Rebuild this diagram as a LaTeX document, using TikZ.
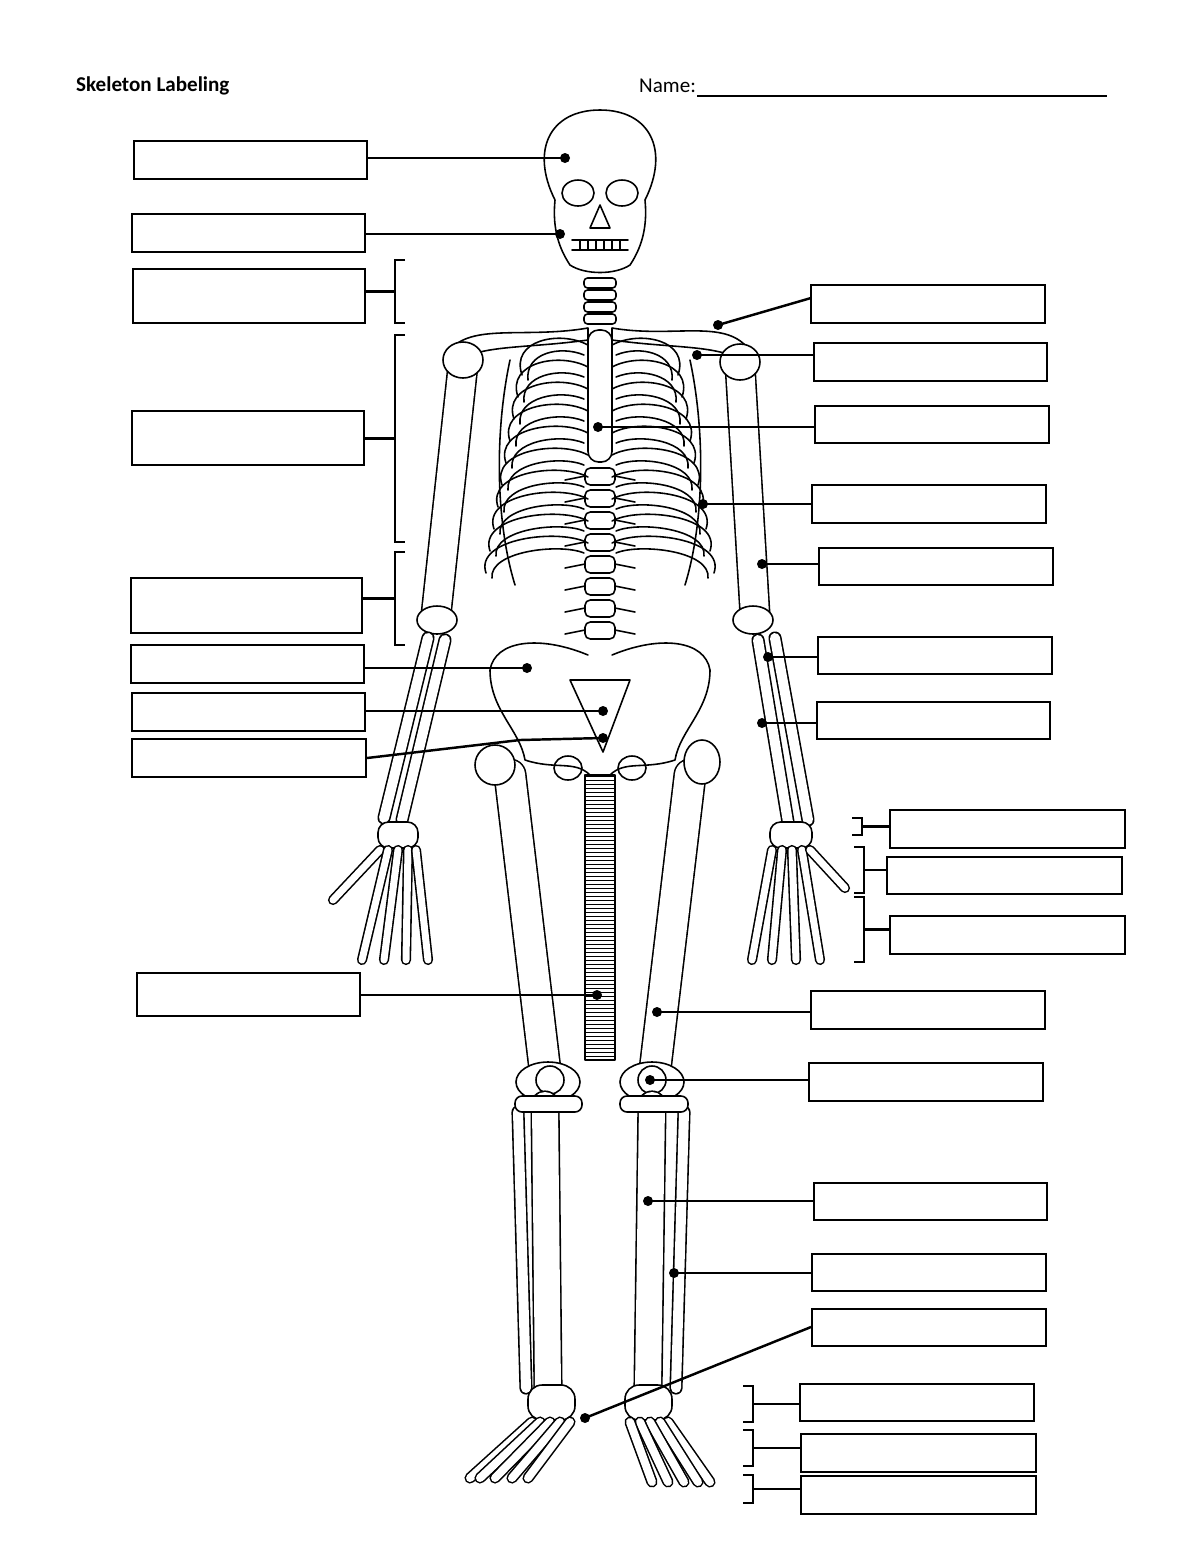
\documentclass[tikz,border=0pt]{standalone}
\usepackage{fontspec}
\setmainfont{Carlito}
\begin{document}
\begin{tikzpicture}[x=0.02cm,y=-0.02cm,
  lab/.style={draw,line width=1.2pt,inner sep=0pt},
  con/.style={line width=1.4pt},
  dot/.style={fill=black},
  brk/.style={line width=1.4pt},
  sk/.style={line width=0.9pt,line join=round,line cap=round},
  bone/.style={double=white,line width=0.9pt,line cap=round}]
\path[use as bounding box,fill=white] (0,0) rectangle (1200,1553);
\node[anchor=west,font=\bfseries\large] (t) at (70,86) {Skeleton Labeling};
\node[anchor=west,font=\large] (nm) at (633,86) {Name:};
\coordinate (u1) at (697,96); \coordinate (u2) at (1107,96);
\draw[line width=0.8pt] (u1) -- (u2);
% ---------- skeleton ----------
\begin{scope}[sk]
% skull
\draw (555,200) .. controls (530,150) and (550,110) .. (600,110) .. controls (650,110) and (670,150) .. (645,200)
  .. controls (648,230) and (640,250) .. (630,265) .. controls (615,275) and (585,275) .. (570,265) .. controls (560,250) and (552,230) .. (555,200);
\draw (578,193) ellipse (16 and 13); \draw (622,193) ellipse (16 and 13);
\draw (600,205) -- (590,228) -- (610,228) -- cycle;
\draw (572,240) -- (628,240); \draw (572,250) -- (628,250);
\foreach \x in {580,588,596,604,612,620} \draw (\x,240) -- (\x,250);
% neck
\foreach \y in {278,290,302,314} \draw[rounded corners=2] (584,\y) rectangle (616,\y+10);
% clavicles
\draw (455,345) .. controls (480,325) and (530,338) .. (588,328) -- (588,340) .. controls (530,348) and (490,345) .. (462,358);
\draw (745,345) .. controls (720,320) and (670,338) .. (612,328) -- (612,340) .. controls (670,348) and (710,345) .. (738,358);
% sternum
\draw[rounded corners=6] (588,330) rectangle (612,462);
% ribs
\foreach \i in {0,...,9}{
  \pgfmathsetmacro{\y}{345+\i*22}
  \pgfmathsetmacro{\w}{70+\i*4}
  \draw (588,\y) .. controls (560,\y-15) and (590-\w-10,\y-5) .. (592-\w,\y+30);
  \draw (584,\y+10) .. controls (560,\y) and (590-\w+5,\y+8) .. (598-\w,\y+35);
  \draw (612,\y) .. controls (640,\y-15) and (610+\w+10,\y-5) .. (608+\w,\y+30);
  \draw (616,\y+10) .. controls (640,\y) and (610+\w-5,\y+8) .. (602+\w,\y+35);
}
\draw (510,360) .. controls (495,430) and (495,520) .. (515,585);
\draw (690,360) .. controls (705,430) and (705,520) .. (685,585);
% spine
\foreach \y in {468,490,...,640}{
  \draw[rounded corners=3] (585,\y) rectangle (615,\y+17);
  \draw (585,\y+8) -- (565,\y+12); \draw (615,\y+8) -- (635,\y+12);
}
% pelvis
\draw (588,655) .. controls (540,635) and (495,640) .. (490,670) .. controls (490,710) and (520,730) .. (525,760) .. controls (555,770) and (575,760) .. (590,775);
\draw (612,655) .. controls (660,635) and (705,640) .. (710,670) .. controls (710,710) and (680,730) .. (675,760) .. controls (645,770) and (625,760) .. (610,775);
\draw (570,680) -- (630,680) -- (603,752) -- cycle;
\draw (568,768) ellipse (14 and 12); \draw (632,768) ellipse (14 and 12);
% striped bar
\foreach \y in {776,780,...,1058} \draw[line width=0.5pt] (586,\y) -- (614,\y);
\draw[line width=0.6pt] (585,775) rectangle (615,1060);
% arms
\draw[bone,double distance=28*0.02cm] (463,365) -- (436,615);
\draw[bone,double distance=28*0.02cm] (740,365) -- (755,615);
\fill[white,draw=black] (463,360) ellipse (20 and 18);
\fill[white,draw=black] (740,362) ellipse (20 and 18);
\fill[white,draw=black] (437,620) ellipse (20 and 14);
\fill[white,draw=black] (753,620) ellipse (20 and 14);
\draw[bone,double distance=10*0.02cm] (445,640) -- (402,820);
\draw[bone,double distance=10*0.02cm] (428,638) -- (384,818);
\draw[bone,double distance=10*0.02cm] (758,640) -- (788,822);
\draw[bone,double distance=10*0.02cm] (775,638) -- (808,820);
% hands
\fill[white,draw=black,rounded corners=6] (378,822) rectangle (418,848);
\fill[white,draw=black,rounded corners=6] (770,822) rectangle (812,848);
\foreach \a/\b in {380/333,388/362,398/384,408/406,416/428}{
  \draw[bone,double distance=7*0.02cm] (\a,850) -- (\b,\ifnum\b=333 900\else 960\fi);}
\foreach \a/\b in {772/752,782/772,792/796,802/820,810/845}{
  \draw[bone,double distance=7*0.02cm] (\a,850) -- (\b,\ifnum\b=845 888\else 960\fi);}
% legs
\draw[bone,double distance=30*0.02cm] (510,775) -- (545,1070);
\draw[bone,double distance=30*0.02cm] (690,775) -- (655,1070);
\fill[white,draw=black] (495,765) circle (20);
\fill[white,draw=black] (702,762) ellipse (18 and 22);
\fill[white,draw=black] (548,1082) ellipse (32 and 20);
\fill[white,draw=black] (652,1082) ellipse (32 and 20);
\draw (550,1080) circle (14); \draw (652,1080) circle (14);
\draw[bone,double distance=10*0.02cm] (518,1112) -- (526,1388);
\draw[bone,double distance=10*0.02cm] (684,1112) -- (676,1388);
\draw[bone,double distance=26*0.02cm] (545,1105) -- (548,1388);
\draw[bone,double distance=26*0.02cm] (652,1105) -- (648,1388);
\fill[white,draw=black,rounded corners=4] (515,1096) rectangle (582,1112);
\fill[white,draw=black,rounded corners=4] (620,1096) rectangle (688,1112);
% feet
\fill[white,draw=black,rounded corners=8] (528,1385) rectangle (575,1420);
\fill[white,draw=black,rounded corners=8] (625,1385) rectangle (672,1420);
\foreach \a/\b in {532/470,540/480,550/495,560/512,570/528}{
  \draw[bone,double distance=8*0.02cm] (\a,1422) -- (\b,1478);}
\foreach \a/\b in {668/710,660/698,650/684,640/668,630/652}{
  \draw[bone,double distance=8*0.02cm] (\a,1422) -- (\b,1482);}
\end{scope}
% ---------- label boxes ----------
\newcommand\lbox[5]{\node[lab,minimum width={(#4-#2)*0.02cm},minimum height={(#5-#3)*0.02cm}] (#1) at ({(#2+#4)/2},{(#3+#5)/2}) {};}
\lbox{b1}{134}{141}{367}{179}
\lbox{b2}{132}{214}{365}{252}
\lbox{b3}{133}{269}{365}{323}
\lbox{b4}{132}{411}{364}{465}
\lbox{b5}{131}{578}{362}{633}
\lbox{b6}{131}{645}{364}{683}
\lbox{b7}{132}{693}{365}{731}
\lbox{b8}{132}{739}{366}{777}
\lbox{b9}{137}{973}{360}{1016}
\lbox{r1}{811}{285}{1045}{323}
\lbox{r2}{814}{343}{1047}{381}
\lbox{r3}{815}{406}{1049}{443}
\lbox{r4}{812}{485}{1046}{523}
\lbox{r5}{819}{548}{1053}{585}
\lbox{r6}{818}{637}{1052}{674}
\lbox{r7}{817}{702}{1050}{739}
\lbox{r8}{890}{810}{1125}{848}
\lbox{r9}{887}{857}{1122}{894}
\lbox{r10}{890}{916}{1125}{954}
\lbox{r11}{811}{991}{1045}{1029}
\lbox{r12}{809}{1063}{1043}{1101}
\lbox{r13}{814}{1183}{1047}{1220}
\lbox{r14}{812}{1254}{1046}{1291}
\lbox{r15}{812}{1309}{1046}{1346}
\lbox{r16}{800}{1384}{1034}{1421}
\lbox{r17}{801}{1434}{1036}{1472}
\lbox{r18}{801}{1476}{1036}{1514}
% ---------- dots and connectors ----------
\newcommand\pt[4]{\coordinate (#1) at (#2,#3); \fill (#1) circle (5); \draw[con] (#1 -| #4) -- (#1);}
\pt{d1}{565}{158}{b1.east}
\pt{d2}{560}{234}{b2.east}
\pt{d6}{527}{668}{b6.east}
\pt{d7}{603}{711}{b7.east}
\coordinate (k8) at (520,740); \coordinate (d8) at (603,738); \fill (d8) circle (5);
\draw[con] (b8.east) -- (k8) -- (d8);
\pt{d9}{597}{995}{b9.east}
\coordinate (s1) at (811,298); \coordinate (e1) at (718,325); \fill (e1) circle (5); \draw[con] (s1) -- (e1);
\pt{e2}{697}{355}{r2.west}
\pt{e3}{598}{427}{r3.west}
\pt{e4}{703}{504}{r4.west}
\pt{e5}{762}{564}{r5.west}
\pt{e6}{768}{657}{r6.west}
\pt{e7}{762}{723}{r7.west}
\pt{e11}{657}{1012}{r11.west}
\pt{e12}{650}{1080}{r12.west}
\pt{e13}{648}{1201}{r13.west}
\pt{e14}{674}{1273}{r14.west}
\coordinate (s15) at (811,1327); \coordinate (e15) at (585,1418); \fill (e15) circle (5); \draw[con] (s15) -- (e15);
% brackets left
\newcommand\lbr[4]{\coordinate (#1) at (395,{(#2+#3)/2}); \draw[brk] (405,#2) -- (395,#2) -- (395,#3) -- (405,#3); \draw[con] (#1 -| #4.east) -- (#1);}
\lbr{c3}{260}{323}{b3}
\lbr{c4}{335}{542}{b4}
\lbr{c5}{552}{645}{b5}
\newcommand\rbr[5]{\coordinate (#1) at (#5,{(#2+#3)/2}); \draw[brk] (#5-10,#2) -- (#5,#2) -- (#5,#3) -- (#5-10,#3); \draw[con] (#1 -| #4.west) -- (#1);}
\rbr{c8}{818}{835}{r8}{862}
\rbr{c9}{847}{893}{r9}{864}
\rbr{c10}{897}{962}{r10}{864}
\rbr{c16}{1386}{1422}{r16}{753}
\rbr{c17}{1430}{1466}{r17}{753}
\rbr{c18}{1475}{1503}{r18}{753}
\end{tikzpicture}
\end{document}
